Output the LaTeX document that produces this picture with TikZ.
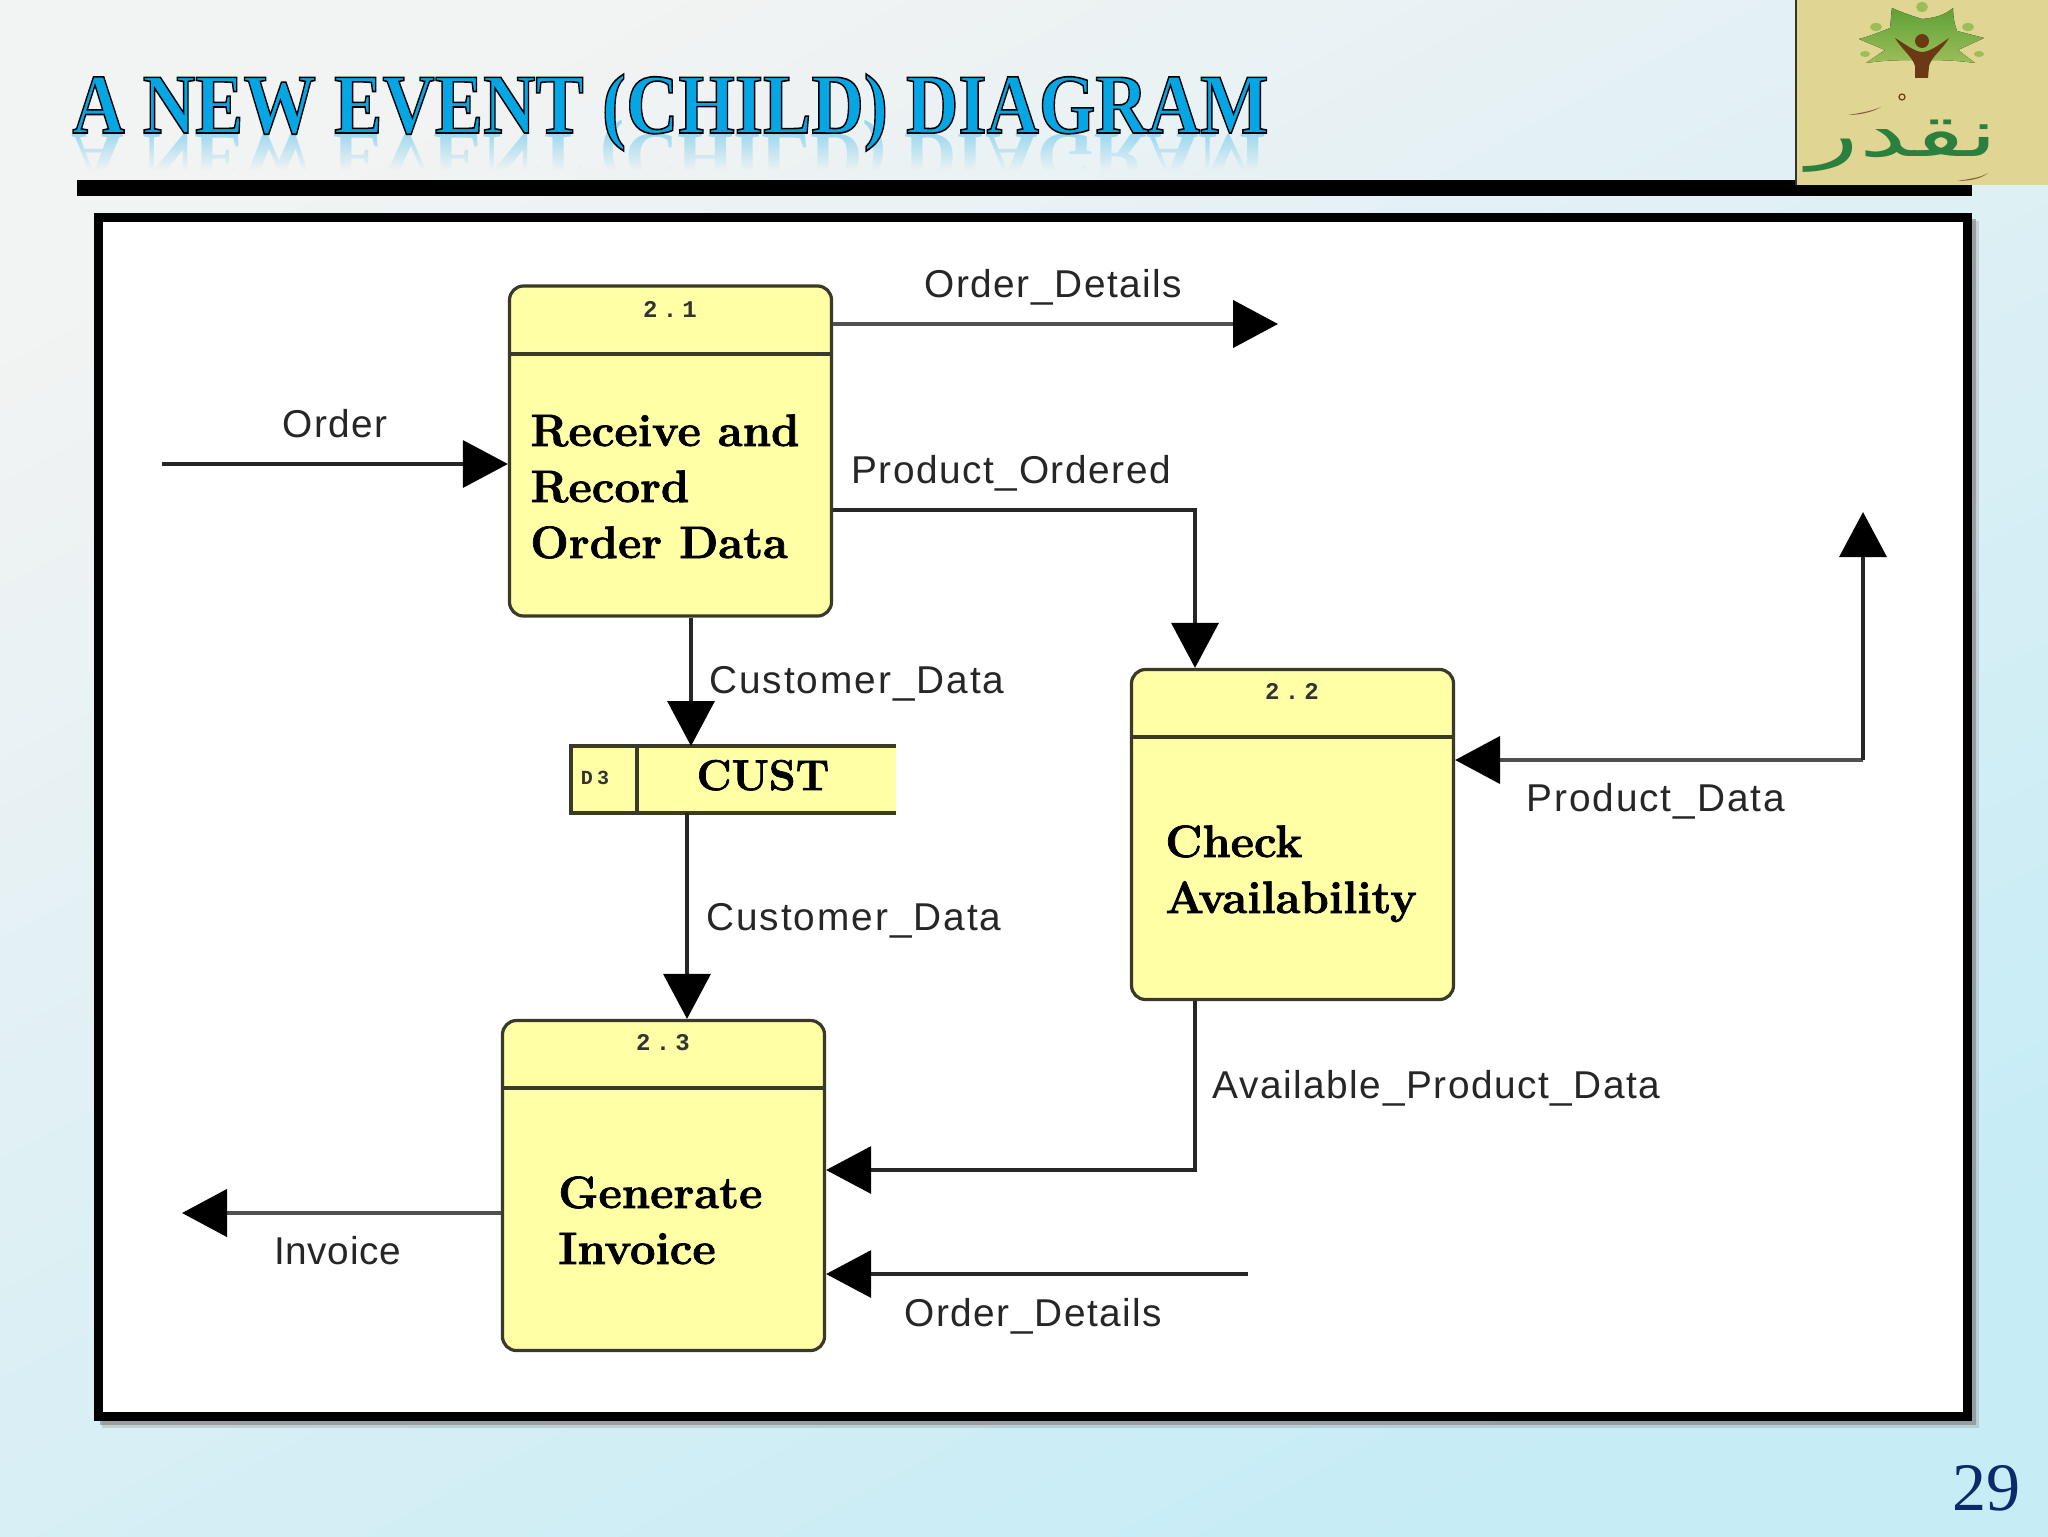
\documentclass[tikz,border=0pt]{standalone}
\usepackage{fontspec}
\usetikzlibrary{arrows.meta,fadings,calc}
\setmainfont{Latin Modern Roman}
\newfontfamily\lblfont[LetterSpace=4]{Liberation Sans}
\newfontfamily\lblwidefont[LetterSpace=5]{Liberation Sans}
\newfontfamily\lblnarrowfont[LetterSpace=1.5]{Liberation Sans}
\newfontfamily\numfont[LetterSpace=22]{Liberation Mono}
\newfontfamily\titlefont{Liberation Serif}
\newfontfamily\pagefont{Liberation Serif}
\newfontfamily\arabicfont[Script=Arabic]{DejaVu Sans}
\TeXXeTstate=1
\definecolor{bgA}{HTML}{F2F3F3}
\definecolor{bgB}{HTML}{C6ECF6}
\definecolor{boxfill}{HTML}{FFFFA6}
\definecolor{boxline}{HTML}{3A3A2A}
\definecolor{titleblue}{HTML}{06A5E4}
\definecolor{pagenum}{HTML}{0B2A6B}
\definecolor{logobg}{HTML}{E0D592}
\definecolor{logogreen}{HTML}{2B7F3F}
\definecolor{leafA}{HTML}{5FA038}
\definecolor{leafB}{HTML}{9CBE58}
\definecolor{bodybrown}{HTML}{6B3A14}
\definecolor{connA}{HTML}{262626}
\definecolor{connB}{HTML}{505050}
\tikzset{
  x=0.5pt,y=-0.5pt,
  process/.style={draw=boxline,line width=1.6pt,fill=boxfill,rounded corners=7pt,minimum width=161pt,minimum height=165pt,inner sep=0pt},
  divider/.style={draw=boxline,line width=1.6pt},
  flowlabel/.style={anchor=base west,inner sep=0pt,font=\lblfont\fontsize{19.4}{23}\selectfont,text=black!85},
  procname/.style={anchor=base west,inner sep=0pt,align=left,font=\bfseries\fontsize{22.7}{28}\selectfont},
  procnum/.style={inner sep=0pt,font=\numfont\bfseries\fontsize{12}{14}\selectfont,text=black!80},
  bighead/.style={-{Triangle[length=22.5pt,width=23.5pt,color=black,fill=black]}},
  flow/.style={draw=connA,line width=1.7pt,bighead},
  flowgrey/.style={flow,draw=connB,line width=2.2pt}
}
\newcommand{\outlined}{\special{pdf:code 2 Tr 0.8 w 0 0 0 RG}}
\newcommand{\thinoutlined}{\special{pdf:code 2 Tr 0.35 w 0 0 0 RG}}
\newcommand{\unoutlined}{\special{pdf:code 0 Tr}}
\begin{document}
\begin{tikzpicture}
\useasboundingbox (0,0) rectangle (2048,1536);
% background
\shade[top color=bgA,bottom color=bgB,shading angle=28] (0,0) rectangle (2048,1536);
% title reflection
\begin{scope}[transparency group]
\path[scope fading=south] (60,134) rectangle (1290,170);
\node[anchor=base west,inner sep=0pt,xscale=0.853,yscale=-0.8,opacity=.5,text=titleblue!70] (titlerefl) at (72,135)
  {\titlefont\bfseries\fontsize{42.5}{50}\selectfont A NEW EVENT (CHILD) DIAGRAM};
\end{scope}
% title
\node[anchor=base west,inner sep=0pt,xscale=0.853,text=titleblue] (title) at (72,133)
  {\titlefont\bfseries\fontsize{42.5}{50}\selectfont\outlined A NEW EVENT (CHILD) DIAGRAM\unoutlined};
% rule
\fill[black] (77,180) rectangle (1972,196);
% logo
\fill[black!80] (1795,0) rectangle (1798,185);
\fill[logobg] (1797,0) rectangle (2048,185);
\fill[bottom color=leafB,top color=leafA]
  (1892,8) .. controls (1905,14) and (1922,19) .. (1922,19) .. controls (1935,18) and (1945,15) .. (1953,8)
  .. controls (1953,18) and (1955,26) .. (1957,31) -- (1984,38) -- (1958,50) -- (1975,63)
  .. controls (1955,60) and (1935,60) .. (1923,60) .. controls (1905,60) and (1885,60) .. (1866,63)
  -- (1885,50) -- (1859,39) .. controls (1870,36) and (1880,32) .. (1890,28) .. controls (1891,20) and (1891,14) .. (1892,8) -- cycle;
\fill[leafB] (1922,7) circle[x radius=6,y radius=5];
\fill[leafB] (1876,27) circle[x radius=6,y radius=4];
\fill[leafB] (1968,27) circle[x radius=6,y radius=4];
\fill[leafB] (1865,54) circle[x radius=5,y radius=3];
\fill[leafB] (1979,54) circle[x radius=5,y radius=3];
\fill[bodybrown] (1922,41) circle[radius=7];
\fill[bodybrown] (1895,38) .. controls (1905,44) and (1915,52) .. (1922,52) .. controls (1930,52) and (1940,44) .. (1949,38)
  .. controls (1942,50) and (1932,56) .. (1929,66) -- (1928,78) -- (1915,78) -- (1915,66) .. controls (1912,56) and (1902,50) .. (1895,38) -- cycle;
\node[inner sep=0pt,text=logogreen,xscale=2.05,yscale=1.25] (logotext) at (1903,146)
  {\arabicfont\fontsize{26}{30}\selectfont\beginR نقدر\endR};
\draw[bodybrown,line width=.6pt] (1902,97) circle[radius=3];
\fill[bodybrown!80] (1848,115) .. controls (1860,113) and (1872,111) .. (1881,107) .. controls (1873,112) and (1860,115) .. cycle;
\fill[bodybrown!80] (1957,181) .. controls (1968,179) and (1980,178) .. (1988,173) .. controls (1981,179) and (1969,181) .. cycle;
% panel
\fill[black!40,opacity=.35] (102,221) rectangle (1979,1428);
\fill[black!50,opacity=.6] (100,219) rectangle (1976,1425);
\draw[black,line width=4.5pt,fill=white] (98,217.5) rectangle (1967.5,1416.5);
% page number
\node[anchor=base east,inner sep=0pt,text=pagenum] (pg) at (2021,1510)
  {\pagefont\fontsize{34}{40}\selectfont 29};
% processes
\node[process] (p1) at (670.5,451) {};
\node[process] (p2) at (1292.5,834.5) {};
\node[process] (p3) at (663.5,1185.5) {};
\draw[divider] (p1.west |- 0,354) -- (p1.east |- 0,354);
\draw[divider] (p2.west |- 0,737) -- (p2.east |- 0,737);
\draw[divider] (p3.west |- 0,1088) -- (p3.east |- 0,1088);
\node[procnum] (n1) at (670,309) {2.1};
\node[procnum] (n2) at (1292,691) {2.2};
\node[procnum] (n3) at (663,1043) {2.3};
\node[procname] (t1) at (530,558) {\thinoutlined Receive and\\Record\\Order Data\unoutlined};
\node[procname] (t2) at (1165,913) {\thinoutlined Check\\Availability\unoutlined};
\node[procname] (t3) at (558,1264) {\thinoutlined Generate\\Invoice\unoutlined};
% data store
\fill[boxfill] (571,746) rectangle (896,813);
\draw[divider] (896,746) -- (571,746) -- (571,813) -- (896,813);
\draw[divider] (637,746) -- (637,813);
\coordinate (storeN) at (691,746);
\coordinate (storeS) at (687,813);
\node[inner sep=0pt,font=\numfont\bfseries\fontsize{10}{12}\selectfont,text=black!80] (d3) at (595,778) {D3};
\node[inner sep=0pt,anchor=base,font=\bfseries\fontsize{21.5}{26}\selectfont] (cust) at (763,790) {\thinoutlined CUST\unoutlined};
% free ends
\coordinate (odEnd) at (1278,324);
\coordinate (orderStart) at (162,464);
\coordinate (pdUp) at (1863,512);
\coordinate (pdMid) at (1863,760);
\coordinate (od2Start) at (1248,1274);
\coordinate (invEnd) at (182,1213);
\coordinate (poY) at (0,510);
\coordinate (avX) at (1195,0);
\coordinate (avY) at (0,1170);
% connectors
\draw[flowgrey] (p1.east |- odEnd) -- (odEnd);
\draw[flow] (orderStart) -- (p1.west |- orderStart);
\draw[flow] (p1.east |- poY) -| (p2.north -| avX);
\draw[flow] (p1.south -| storeN) -- (storeN);
\draw[flow] (storeS) -- (p3.north -| storeS);
\draw[flowgrey] (pdMid) -- (p2.east |- pdMid);
\draw[flow] (pdMid) -- (pdUp);
\draw[flow] (p2.south -| avX) |- (p3.east |- avY);
\draw[flow] (od2Start) -- (p3.east |- od2Start);
\draw[flowgrey] (p3.west |- invEnd) -- (invEnd);
% labels
\node[flowlabel] (l1) at (924,297) {Order\_Details};
\node[flowlabel] (l2) at (282,437) {Order};
\node[flowlabel] (l3) at (851,483) {Product\_Ordered};
\node[flowlabel,font=\lblwidefont\fontsize{19.4}{23}\selectfont] (l4) at (709,693) {Customer\_Data};
\node[flowlabel,font=\lblwidefont\fontsize{19.4}{23}\selectfont] (l5) at (706,930) {Customer\_Data};
\node[flowlabel,font=\lblwidefont\fontsize{19.4}{23}\selectfont] (l6) at (1526,811) {Product\_Data};
\node[flowlabel] (l7) at (1212,1098) {Available\_Product\_Data};
\node[flowlabel] (l8) at (904,1326) {Order\_Details};
\node[flowlabel,font=\lblnarrowfont\fontsize{19.4}{23}\selectfont] (l9) at (274,1264) {Invoice};
\end{tikzpicture}
\end{document}
